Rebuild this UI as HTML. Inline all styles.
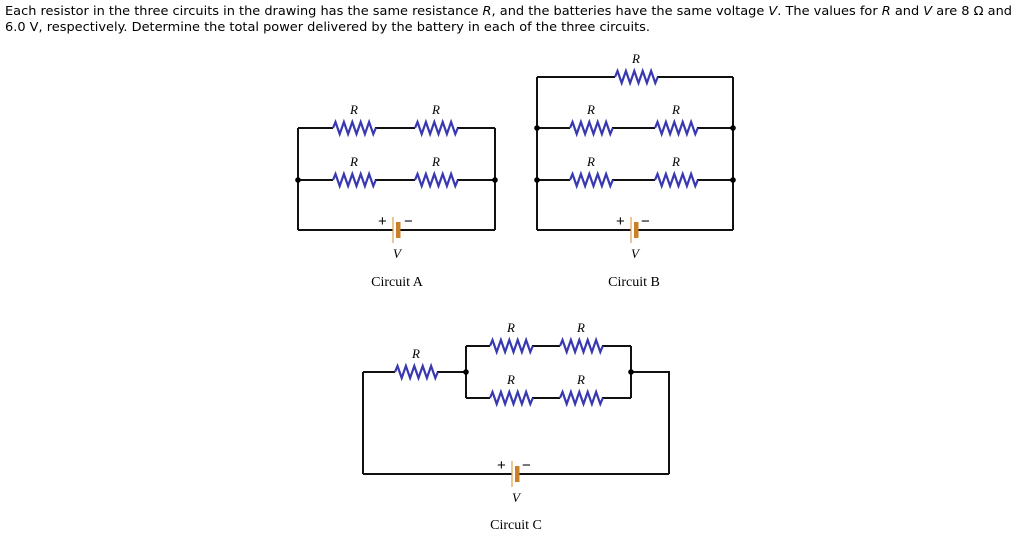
<!DOCTYPE html>
<html><head><meta charset="utf-8"><style>
html,body{margin:0;padding:0;background:#fff;width:1024px;height:541px;overflow:hidden}
svg{display:block}
.t{font-family:"DejaVu Sans","Liberation Sans",sans-serif;font-size:12.5px;fill:#000}
.r{font-family:"Liberation Serif",serif;font-style:italic;font-size:13px;fill:#000}
.c{font-family:"Liberation Serif",serif;font-size:14px;fill:#000}
.pm{font-family:"Liberation Sans",sans-serif;font-size:15px;fill:#000}
</style></head><body>
<svg width="1024" height="541" viewBox="0 0 1024 541" xmlns="http://www.w3.org/2000/svg">
<defs>
<path id="res" d="M0,0 l2.5,-6 l4.2,12 l4.2,-12 l4.2,12 l4.2,-12 l4.2,12 l4.2,-12 l4.2,12 l4.2,-12 l4.2,12 l2.5,-6" fill="none" stroke="#3838b0" stroke-width="2.2" stroke-linejoin="miter"/>
</defs>
<text class="t" x="5" y="15" textLength="1007" lengthAdjust="spacingAndGlyphs">Each resistor in the three circuits in the drawing has the same resistance <tspan font-style="italic">R</tspan>, and the batteries have the same voltage <tspan font-style="italic">V</tspan>. The values for <tspan font-style="italic">R</tspan> and <tspan font-style="italic">V</tspan> are 8 Ω and</text>
<text class="t" x="5" y="31" textLength="645" lengthAdjust="spacingAndGlyphs">6.0 V, respectively. Determine the total power delivered by the battery in each of the three circuits.</text>

<g stroke="#111" stroke-width="2" fill="none">
<path d="M298,128 H333 M375,128 H415 M457,128 H495 M298,180 H333 M375,180 H415 M457,180 H495 M298,128 V230 M495,128 V230 M298,230 H393 M400,230 H495"/>
<path d="M537,77 H615 M657,77 H733 M537,77 V230 M733,77 V230 M537,128 H570 M612,128 H655 M697,128 H733 M537,180 H570 M612,180 H655 M697,180 H733 M537,230 H631 M638,230 H733"/>
<path d="M363,372 H395 M437,372 H466 M466,346 V398 M631,346 V398 M466,346 H490 M532,346 H560 M602,346 H631 M466,398 H490 M532,398 H560 M602,398 H631 M631,372 H669 V474 M363,372 V474 M363,474 H512 M519,474 H669"/>
</g>
<g>
<use href="#res" x="333" y="128"/><use href="#res" x="415" y="128"/>
<use href="#res" x="333" y="180"/><use href="#res" x="415" y="180"/>
<use href="#res" x="615" y="77"/>
<use href="#res" x="570" y="128"/><use href="#res" x="655" y="128"/>
<use href="#res" x="570" y="180"/><use href="#res" x="655" y="180"/>
<use href="#res" x="395" y="372"/>
<use href="#res" x="490" y="346"/><use href="#res" x="560" y="346"/>
<use href="#res" x="490" y="398"/><use href="#res" x="560" y="398"/>
</g>
<g fill="#000">
<circle cx="298" cy="180" r="2.8"/><circle cx="495" cy="180" r="2.8"/>
<circle cx="537" cy="128" r="2.8"/><circle cx="733" cy="128" r="2.8"/>
<circle cx="537" cy="180" r="2.8"/><circle cx="733" cy="180" r="2.8"/>
<circle cx="466" cy="372" r="2.8"/><circle cx="631" cy="372" r="2.8"/>
</g>
<g>
<line x1="393" y1="217" x2="393" y2="243" stroke="#e0a050" stroke-width="1.2"/><rect x="396" y="222" width="4.5" height="16" fill="#c98028"/>
<line x1="631" y1="217" x2="631" y2="243" stroke="#e0a050" stroke-width="1.2"/><rect x="634" y="222" width="4.5" height="16" fill="#c98028"/>
<line x1="512" y1="461" x2="512" y2="487" stroke="#e0a050" stroke-width="1.2"/><rect x="515" y="466" width="4.5" height="16" fill="#c98028"/>
</g>
<g class="pm">
<text x="378" y="226">+</text><text x="404" y="226">−</text>
<text x="616" y="226">+</text><text x="641" y="226">−</text>
<text x="497" y="470">+</text><text x="522" y="470">−</text>
</g>
<g class="r" text-anchor="middle">
<text x="354" y="114">R</text><text x="436" y="114">R</text>
<text x="354" y="166">R</text><text x="436" y="166">R</text>
<text x="636" y="63">R</text>
<text x="591" y="114">R</text><text x="676" y="114">R</text>
<text x="591" y="166">R</text><text x="676" y="166">R</text>
<text x="416" y="358">R</text>
<text x="511" y="332">R</text><text x="581" y="332">R</text>
<text x="511" y="384">R</text><text x="581" y="384">R</text>
<text x="397" y="258">V</text><text x="635" y="258">V</text><text x="516" y="502">V</text>
</g>
<g class="c" text-anchor="middle">
<text x="397" y="286">Circuit A</text>
<text x="634" y="286">Circuit B</text>
<text x="516" y="529">Circuit C</text>
</g>
</svg>
</body></html>
